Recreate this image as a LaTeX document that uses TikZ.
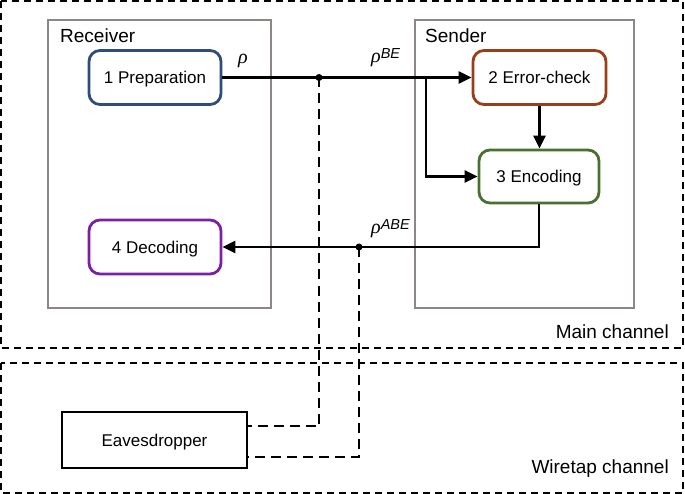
\documentclass[tikz,border=0pt]{standalone}
\usepackage{fontspec}
\setmainfont{Liberation Sans}
\newfontfamily\rhofont{Liberation Serif}
\usetikzlibrary{arrows.meta,calc}
\definecolor{cprep}{HTML}{2E4D7B}
\definecolor{cerr}{HTML}{9A3E1A}
\definecolor{cenc}{HTML}{4A6F2E}
\definecolor{cdec}{HTML}{7D1FA6}
\definecolor{cgray}{HTML}{8C8785}
\newcommand{\myrho}{{\rhofont\itshape\fontsize{20}{22}\selectfont ρ}}
\newcommand{\mysup}[1]{\raisebox{4.5pt}{\fontsize{14.5}{16}\selectfont\itshape #1}}
\tikzset{
  stage/.style={draw, line width=2.8pt, rounded corners=11pt, fill=white,
    font=\fontsize{17}{20}\selectfont, inner sep=0pt, text height=12.2pt, text depth=0pt},
  party/.style={draw=cgray, line width=1.5pt},
  chan/.style={draw, line width=2pt, dash pattern=on 7pt off 5pt},
  conn/.style={line width=2.4pt},
  arr/.style={conn, -{Triangle[length=13pt,width=12pt]}},
  dconn/.style={line width=2.4pt, dash pattern=on 10pt off 6pt},
  dotnode/.style={circle, fill=black, inner sep=0pt, minimum size=7pt},
  title/.style={font=\fontsize{19}{22}\selectfont, inner sep=0pt},
  lbl/.style={inner sep=0pt}
}
\begin{document}
\begin{tikzpicture}[x=1pt,y=-1pt]
\useasboundingbox (0,0) rectangle (685,494);
% channels
\draw[chan] (1,1) rectangle (683,348);
\draw[chan] (1,363) rectangle (683,493);
\node[title, anchor=base east] (mainlbl) at (669,338) {Main channel};
\node[title, anchor=base east] (wirelbl) at (669,473) {Wiretap channel};
% parties
\draw[party] (48,20) rectangle (271,308);
\draw[party] (415,20) rectangle (634,308);
\node[title, anchor=base west] (reclbl) at (60,43) {Receiver};
\node[title, anchor=base west] (sendlbl) at (425,43) {Sender};
% stages
\node[stage, draw=cprep, minimum width=132pt, minimum height=54pt] (prep) at (155,77.5) {1 Preparation};
\node[stage, draw=cerr, minimum width=133pt, minimum height=54pt] (err) at (539.5,77.5) {2 Error-check};
\node[stage, draw=cenc, minimum width=120pt, minimum height=53pt] (enc) at (539,176.5) {3 Encoding};
\node[stage, draw=cdec, minimum width=132pt, minimum height=54pt] (dec) at (155,247) {4 Decoding};
\node[draw, line width=2.6pt, minimum width=185pt, minimum height=56pt, inner sep=0pt,
  text height=12.2pt, text depth=0pt,
  font=\fontsize{17}{20}\selectfont] (eve) at (154.5,440) {Eavesdropper};
% junctions
\node[dotnode] (d1) at (319,77.5) {};
\node[dotnode] (d2) at (359,247) {};
\coordinate (br) at (426,77.5);
% connectors
\draw[arr] (prep.east) -- (err.west);
\draw[arr] (br) |- (enc.west);
\draw[arr] (err.south) -- (err.south |- enc.north);
\draw[arr] (enc.south) |- (dec.east);
\draw[dconn] (d1.center) |- ([yshift=14pt]eve.east);
\draw[dconn] (d2.center) |- ([yshift=-17pt]eve.east);
% labels
\node[lbl, anchor=base west] (l1) at (238,64) {\myrho};
\node[lbl, anchor=base west] (l2) at (371,63) {\myrho\mysup{BE}};
\node[lbl, anchor=base west] (l3) at (371,234) {\myrho\mysup{ABE}};
\end{tikzpicture}
\end{document}
